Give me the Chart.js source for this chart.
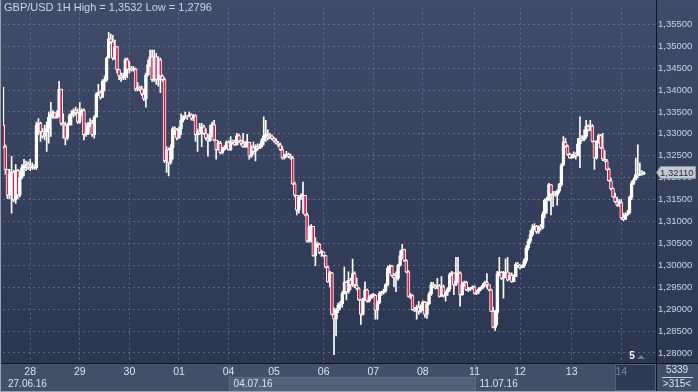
<!DOCTYPE html>
<html lang="en">
<head>
<meta charset="UTF-8">
<title>GBP/USD 1H</title>
<script src="https://cdn.jsdelivr.net/npm/chart.js"></script>
<style>
  html, body { margin: 0; padding: 0; background: #2d3853; }
  canvas { display: block; }
</style>
</head>
<body>
<canvas id="fx" width="698" height="392"></canvas>
<script>
// GBP/USD hourly bars, 27.06.16 ~11:00 .. 14.07.16 ~08:00
const opens = [
  1.3320, 1.3271, 1.3219, 1.3160, 1.3208, 1.3212, 1.3149, 1.3216, 1.3160, 1.3201,
  1.3223, 1.3227, 1.3230, 1.3226, 1.3223, 1.3227, 1.3223, 1.3320, 1.3324, 1.3305,
  1.3294, 1.3305, 1.3312, 1.3338, 1.3346, 1.3348, 1.3338, 1.3344, 1.3402, 1.3324,
  1.3320, 1.3290, 1.3320, 1.3342, 1.3346, 1.3353, 1.3348, 1.3327, 1.3350, 1.3353,
  1.3298, 1.3301, 1.3320, 1.3324, 1.3298, 1.3338, 1.3391, 1.3394, 1.3383, 1.3420,
  1.3424, 1.3473, 1.3517, 1.3510, 1.3473, 1.3499, 1.3447, 1.3432, 1.3428, 1.3432,
  1.3469,
  1.3447, 1.3450, 1.3447, 1.3448, 1.3402, 1.3406, 1.3403, 1.3391, 1.3380, 1.3435,
  1.3458, 1.3476, 1.3424, 1.3476, 1.3424, 1.3469, 1.3432, 1.3424, 1.3238, 1.3264,
  1.3234, 1.3268, 1.3312, 1.3309, 1.3290, 1.3312, 1.3331, 1.3339, 1.3341, 1.3339,
  1.3344, 1.3335, 1.3341, 1.3298, 1.3305, 1.3301, 1.3316, 1.3301, 1.3290, 1.3284,
  1.3296, 1.3321, 1.3286, 1.3264, 1.3279, 1.3257, 1.3264, 1.3269, 1.3281, 1.3264,
  1.3284, 1.3281, 1.3275, 1.3296, 1.3284, 1.3279, 1.3271, 1.3277, 1.3281, 1.3249,
  1.3269, 1.3260, 1.3271, 1.3266, 1.3271, 1.3284,
  1.3296, 1.3296, 1.3292, 1.3295, 1.3289, 1.3284, 1.3279, 1.3275, 1.3264, 1.3245,
  1.3251, 1.3253, 1.3249, 1.3245, 1.3186, 1.3160, 1.3126, 1.3156, 1.3157, 1.3160,
  1.3115, 1.3055, 1.3087, 1.3089, 1.3022, 1.3050, 1.3048, 1.3029, 1.3031, 1.3022,
  1.2996, 1.2962, 1.2983, 1.2888, 1.2877, 1.2897, 1.2909, 1.2912, 1.2936, 1.2961,
  1.2940, 1.2966, 1.2955, 1.2981, 1.2955, 1.2947, 1.2921, 1.2888, 1.2921, 1.2944,
  1.2918, 1.2925, 1.2931, 1.2932, 1.2897, 1.2914, 1.2936, 1.2938, 1.2941, 1.2956,
  1.2993,
  1.2998, 1.2977, 1.2971, 1.2970, 1.3000, 1.3022, 1.3036, 1.3011, 1.2985, 1.2929,
  1.2931, 1.2899, 1.2897, 1.2904, 1.2895, 1.2907, 1.2916, 1.2888, 1.2912, 1.2934,
  1.2956, 1.2953, 1.2948, 1.2953, 1.2929, 1.2951, 1.2931, 1.2938, 1.2946, 1.2979,
  1.2983, 1.2955, 1.2964, 1.2983, 1.2933, 1.2956, 1.2961, 1.2944, 1.2946, 1.2948,
  1.2951, 1.2936, 1.2940, 1.2946, 1.2949, 1.2955, 1.2961, 1.2956, 1.2944, 1.2895,
  1.2858, 1.2892, 1.2981, 1.2984, 1.2970, 1.2972, 1.2985, 1.2966, 1.2977, 1.2962,
  1.2974, 1.3002, 1.3000, 1.2994,
  1.2998, 1.3010, 1.3040, 1.3055, 1.3070, 1.3085, 1.3089, 1.3076, 1.3087, 1.3086,
  1.3117, 1.3149, 1.3150, 1.3184, 1.3162, 1.3165, 1.3160, 1.3169, 1.3184, 1.3229,
  1.3281, 1.3272, 1.3253, 1.3245, 1.3247, 1.3254, 1.3251, 1.3277, 1.3290, 1.3286,
  1.3294, 1.3318, 1.3309, 1.3318, 1.3283, 1.3245, 1.3281, 1.3296, 1.3268, 1.3242,
  1.3238, 1.3219, 1.3193, 1.3175, 1.3156, 1.3145, 1.3137, 1.3143, 1.3108, 1.3105,
  1.3115, 1.3120, 1.3155, 1.3187, 1.3195, 1.3207, 1.3205, 1.3208, 1.3209
];
const highs = [
  1.3406, 1.3275, 1.3219, 1.3219, 1.3249, 1.3216, 1.3230, 1.3219, 1.3216, 1.3230,
  1.3242, 1.3238, 1.3236, 1.3242, 1.3234, 1.3230, 1.3327, 1.3335, 1.3327, 1.3312,
  1.3320, 1.3327, 1.3350, 1.3372, 1.3353, 1.3350, 1.3353, 1.3420, 1.3402, 1.3346,
  1.3327, 1.3324, 1.3346, 1.3353, 1.3357, 1.3361, 1.3357, 1.3372, 1.3357, 1.3357,
  1.3324, 1.3327, 1.3335, 1.3331, 1.3342, 1.3394, 1.3413, 1.3398, 1.3424, 1.3432,
  1.3476, 1.3532, 1.3528, 1.3525, 1.3514, 1.3499, 1.3447, 1.3439, 1.3439, 1.3473,
  1.3473,
  1.3465, 1.3454, 1.3454, 1.3450, 1.3417, 1.3409, 1.3409, 1.3402, 1.3439, 1.3469,
  1.3491, 1.3491, 1.3491, 1.3484, 1.3476, 1.3473, 1.3435, 1.3428, 1.3271, 1.3268,
  1.3275, 1.3316, 1.3316, 1.3312, 1.3316, 1.3346, 1.3342, 1.3350, 1.3342, 1.3350,
  1.3346, 1.3344, 1.3344, 1.3311, 1.3324, 1.3324, 1.3320, 1.3312, 1.3299, 1.3320,
  1.3327, 1.3331, 1.3286, 1.3284, 1.3283, 1.3269, 1.3274, 1.3284, 1.3284, 1.3294,
  1.3286, 1.3286, 1.3301, 1.3299, 1.3286, 1.3301, 1.3283, 1.3299, 1.3281, 1.3273,
  1.3281, 1.3275, 1.3277, 1.3277, 1.3289, 1.3339,
  1.3331, 1.3309, 1.3301, 1.3298, 1.3292, 1.3289, 1.3283, 1.3279, 1.3271, 1.3254,
  1.3260, 1.3256, 1.3254, 1.3249, 1.3190, 1.3160, 1.3160, 1.3163, 1.3190, 1.3160,
  1.3119, 1.3090, 1.3093, 1.3089, 1.3063, 1.3053, 1.3050, 1.3035, 1.3031, 1.3023,
  1.2998, 1.2986, 1.2984, 1.2903, 1.2901, 1.2914, 1.2918, 1.2940, 1.2996, 1.2964,
  1.2985, 1.2970, 1.3014, 1.2985, 1.2971, 1.2949, 1.2923, 1.2925, 1.2962, 1.2946,
  1.2931, 1.2934, 1.2936, 1.2934, 1.2919, 1.2940, 1.2941, 1.2946, 1.2958, 1.2998,
  1.3001,
  1.3000, 1.2981, 1.2985, 1.3003, 1.3033, 1.3048, 1.3037, 1.3013, 1.2988, 1.2936,
  1.2933, 1.2904, 1.2909, 1.2918, 1.2910, 1.2919, 1.2918, 1.2916, 1.2939, 1.2961,
  1.2961, 1.2956, 1.2970, 1.2956, 1.2974, 1.2955, 1.2941, 1.2949, 1.2983, 1.2986,
  1.2983, 1.3018, 1.3018, 1.2985, 1.2961, 1.2964, 1.2964, 1.2949, 1.2950, 1.2953,
  1.2953, 1.2943, 1.2949, 1.2951, 1.2959, 1.2964, 1.2981, 1.2953, 1.2946, 1.2904,
  1.2897, 1.2986, 1.3018, 1.2986, 1.2986, 1.3015, 1.3018, 1.2983, 1.2983, 1.2979,
  1.3006, 1.3006, 1.3001, 1.3001,
  1.3015, 1.3045, 1.3060, 1.3080, 1.3093, 1.3095, 1.3091, 1.3090, 1.3093, 1.3122,
  1.3152, 1.3156, 1.3187, 1.3184, 1.3169, 1.3169, 1.3172, 1.3187, 1.3232, 1.3294,
  1.3290, 1.3275, 1.3256, 1.3254, 1.3259, 1.3257, 1.3290, 1.3339, 1.3296, 1.3309,
  1.3331, 1.3321, 1.3331, 1.3321, 1.3284, 1.3284, 1.3299, 1.3299, 1.3301, 1.3262,
  1.3242, 1.3222, 1.3199, 1.3177, 1.3165, 1.3156, 1.3150, 1.3150, 1.3119, 1.3120,
  1.3125, 1.3158, 1.3192, 1.3199, 1.3245, 1.3275, 1.3234, 1.3216, 1.3214
];
const lows = [
  1.3268, 1.3208, 1.3152, 1.3152, 1.3119, 1.3145, 1.3141, 1.3152, 1.3156, 1.3197,
  1.3204, 1.3216, 1.3219, 1.3216, 1.3219, 1.3219, 1.3219, 1.3298, 1.3283, 1.3290,
  1.3286, 1.3260, 1.3279, 1.3294, 1.3335, 1.3335, 1.3335, 1.3338, 1.3320, 1.3290,
  1.3275, 1.3286, 1.3320, 1.3320, 1.3338, 1.3342, 1.3324, 1.3324, 1.3342, 1.3286,
  1.3294, 1.3298, 1.3316, 1.3294, 1.3290, 1.3338, 1.3387, 1.3379, 1.3383, 1.3398,
  1.3420, 1.3473, 1.3506, 1.3469, 1.3470, 1.3439, 1.3424, 1.3420, 1.3424, 1.3424,
  1.3428,
  1.3439, 1.3443, 1.3443, 1.3398, 1.3398, 1.3398, 1.3387, 1.3376, 1.3361, 1.3432,
  1.3454, 1.3420, 1.3420, 1.3413, 1.3409, 1.3394, 1.3420, 1.3234, 1.3212, 1.3204,
  1.3231, 1.3242, 1.3298, 1.3286, 1.3290, 1.3298, 1.3327, 1.3335, 1.3333, 1.3339,
  1.3331, 1.3330, 1.3283, 1.3260, 1.3298, 1.3271, 1.3298, 1.3286, 1.3249, 1.3283,
  1.3294, 1.3284, 1.3242, 1.3262, 1.3254, 1.3254, 1.3262, 1.3266, 1.3262, 1.3262,
  1.3277, 1.3273, 1.3274, 1.3281, 1.3274, 1.3269, 1.3269, 1.3269, 1.3242, 1.3246,
  1.3253, 1.3238, 1.3262, 1.3266, 1.3269, 1.3275,
  1.3283, 1.3286, 1.3289, 1.3286, 1.3281, 1.3277, 1.3271, 1.3262, 1.3242, 1.3242,
  1.3247, 1.3245, 1.3242, 1.3184, 1.3156, 1.3115, 1.3119, 1.3150, 1.3119, 1.3113,
  1.3053, 1.3053, 1.3053, 1.3020, 1.2999, 1.3041, 1.3026, 1.3020, 1.3019, 1.2994,
  1.2961, 1.2951, 1.2886, 1.2796, 1.2839, 1.2892, 1.2899, 1.2904, 1.2934, 1.2921,
  1.2936, 1.2944, 1.2951, 1.2949, 1.2944, 1.2919, 1.2865, 1.2886, 1.2919, 1.2916,
  1.2916, 1.2924, 1.2927, 1.2877, 1.2877, 1.2912, 1.2931, 1.2934, 1.2938, 1.2953,
  1.2983,
  1.2974, 1.2951, 1.2940, 1.2966, 1.2998, 1.3015, 1.3009, 1.2983, 1.2927, 1.2924,
  1.2897, 1.2894, 1.2877, 1.2888, 1.2892, 1.2897, 1.2881, 1.2879, 1.2910, 1.2931,
  1.2949, 1.2946, 1.2946, 1.2927, 1.2929, 1.2927, 1.2918, 1.2931, 1.2941, 1.2976,
  1.2933, 1.2953, 1.2961, 1.2907, 1.2931, 1.2953, 1.2942, 1.2940, 1.2942, 1.2945,
  1.2934, 1.2933, 1.2935, 1.2942, 1.2946, 1.2952, 1.2948, 1.2942, 1.2894, 1.2857,
  1.2851, 1.2864, 1.2976, 1.2968, 1.2925, 1.2976, 1.2964, 1.2968, 1.2961, 1.2964,
  1.2976, 1.2995, 1.2991, 1.2995,
  1.2995, 1.3005, 1.3035, 1.3050, 1.3066, 1.3080, 1.3073, 1.3073, 1.3080, 1.3083,
  1.3108, 1.3119, 1.3147, 1.3115, 1.3134, 1.3158, 1.3137, 1.3165, 1.3180, 1.3227,
  1.3269, 1.3251, 1.3244, 1.3244, 1.3245, 1.3242, 1.3249, 1.3223, 1.3284, 1.3284,
  1.3290, 1.3307, 1.3307, 1.3281, 1.3219, 1.3242, 1.3279, 1.3266, 1.3239, 1.3236,
  1.3217, 1.3192, 1.3172, 1.3155, 1.3143, 1.3135, 1.3134, 1.3105, 1.3102, 1.3104,
  1.3113, 1.3117, 1.3150, 1.3184, 1.3195, 1.3200, 1.3205, 1.3206, 1.3207
];
const closes = [
  1.3271, 1.3219, 1.3160, 1.3208, 1.3212, 1.3149, 1.3216, 1.3160, 1.3201, 1.3223,
  1.3227, 1.3230, 1.3226, 1.3223, 1.3227, 1.3223, 1.3320, 1.3324, 1.3305, 1.3294,
  1.3305, 1.3312, 1.3338, 1.3346, 1.3348, 1.3338, 1.3344, 1.3402, 1.3324, 1.3320,
  1.3290, 1.3320, 1.3342, 1.3346, 1.3353, 1.3348, 1.3327, 1.3350, 1.3353, 1.3298,
  1.3301, 1.3320, 1.3324, 1.3298, 1.3338, 1.3391, 1.3394, 1.3383, 1.3420, 1.3424,
  1.3473, 1.3517, 1.3510, 1.3473, 1.3499, 1.3447, 1.3432, 1.3428, 1.3432, 1.3469,
  1.3447,
  1.3450, 1.3447, 1.3448, 1.3402, 1.3406, 1.3403, 1.3391, 1.3380, 1.3435, 1.3458,
  1.3476, 1.3424, 1.3476, 1.3424, 1.3469, 1.3432, 1.3424, 1.3238, 1.3264, 1.3234,
  1.3268, 1.3312, 1.3309, 1.3290, 1.3312, 1.3331, 1.3339, 1.3341, 1.3339, 1.3344,
  1.3335, 1.3341, 1.3298, 1.3305, 1.3301, 1.3316, 1.3301, 1.3290, 1.3284, 1.3296,
  1.3321, 1.3286, 1.3264, 1.3279, 1.3257, 1.3264, 1.3269, 1.3281, 1.3264, 1.3284,
  1.3281, 1.3275, 1.3296, 1.3284, 1.3279, 1.3271, 1.3277, 1.3281, 1.3249, 1.3269,
  1.3260, 1.3271, 1.3266, 1.3271, 1.3284, 1.3296,
  1.3296, 1.3292, 1.3295, 1.3289, 1.3284, 1.3279, 1.3275, 1.3264, 1.3245, 1.3251,
  1.3253, 1.3249, 1.3245, 1.3186, 1.3160, 1.3126, 1.3156, 1.3157, 1.3160, 1.3115,
  1.3055, 1.3087, 1.3089, 1.3022, 1.3050, 1.3048, 1.3029, 1.3031, 1.3022, 1.2996,
  1.2962, 1.2983, 1.2888, 1.2877, 1.2897, 1.2909, 1.2912, 1.2936, 1.2961, 1.2940,
  1.2966, 1.2955, 1.2981, 1.2955, 1.2947, 1.2921, 1.2888, 1.2921, 1.2944, 1.2918,
  1.2925, 1.2931, 1.2932, 1.2897, 1.2914, 1.2936, 1.2938, 1.2941, 1.2956, 1.2993,
  1.2998,
  1.2977, 1.2971, 1.2970, 1.3000, 1.3022, 1.3036, 1.3011, 1.2985, 1.2929, 1.2931,
  1.2899, 1.2897, 1.2904, 1.2895, 1.2907, 1.2916, 1.2888, 1.2912, 1.2934, 1.2956,
  1.2953, 1.2948, 1.2953, 1.2929, 1.2951, 1.2931, 1.2938, 1.2946, 1.2979, 1.2983,
  1.2955, 1.2964, 1.2983, 1.2933, 1.2956, 1.2961, 1.2944, 1.2946, 1.2948, 1.2951,
  1.2936, 1.2940, 1.2946, 1.2949, 1.2955, 1.2961, 1.2956, 1.2944, 1.2895, 1.2858,
  1.2892, 1.2981, 1.2984, 1.2970, 1.2972, 1.2985, 1.2966, 1.2977, 1.2962, 1.2974,
  1.3002, 1.3000, 1.2994, 1.2998,
  1.3010, 1.3040, 1.3055, 1.3070, 1.3085, 1.3089, 1.3076, 1.3087, 1.3086, 1.3117,
  1.3149, 1.3150, 1.3184, 1.3162, 1.3165, 1.3160, 1.3169, 1.3184, 1.3229, 1.3281,
  1.3272, 1.3253, 1.3245, 1.3247, 1.3254, 1.3251, 1.3277, 1.3290, 1.3286, 1.3294,
  1.3318, 1.3309, 1.3318, 1.3283, 1.3245, 1.3281, 1.3296, 1.3268, 1.3242, 1.3238,
  1.3219, 1.3193, 1.3175, 1.3156, 1.3145, 1.3137, 1.3143, 1.3108, 1.3105, 1.3115,
  1.3120, 1.3155, 1.3187, 1.3195, 1.3207, 1.3205, 1.3208, 1.3209, 1.3211
];

// bar index where each day starts, and the label under it
const dayTicks = [13, 37, 61, 85, 109, 131, 155, 179, 203, 228, 250, 275, 299];
const dayLabels = ['28', '29', '30', '01', '04', '05', '06', '07', '08', '11', '12', '13', '14'];
const weekLabels = ['27.06.16', '04.07.16', '11.07.16'];
const weekTickIdx = [null, 4, 9];

const priceMin = 1.2777, priceMax = 1.3588;

const fmt = (v, d) => v.toFixed(d).replace('.', ',');
const FONT = '"Liberation Sans", Arial, sans-serif';
const RED = '#e8123c';

const bodies = closes.map((c, i) => ({ x: i, y: [opens[i], c] }));
const wicks = closes.map((c, i) => ({ x: i, y: [lows[i], highs[i]] }));
const bodyColors = closes.map((c, i) => c < opens[i] ? RED : '#ffffff');

const framePlugin = {
  id: 'frame',
  beforeDraw(chart) {
    const { ctx, chartArea: a, width, height } = chart;
    const xs = chart.scales.x;
    ctx.save();
    const g = ctx.createLinearGradient(0, 0, 0, a.bottom);
    g.addColorStop(0, '#3f4b68');
    g.addColorStop(1, '#2b3651');
    ctx.fillStyle = g;
    ctx.fillRect(0, 0, width, a.bottom);

    // bottom strip
    ctx.fillStyle = '#434f69';
    ctx.fillRect(0, a.bottom, width, height - a.bottom);
    const w1 = Math.round(xs.getPixelForValue(dayTicks[4]));
    const w2 = Math.round(xs.getPixelForValue(dayTicks[9]));
    const w3 = Math.round(xs.getPixelForValue(dayTicks[12])) - 6;
    ctx.fillStyle = '#535f79';
    ctx.fillRect(w1, a.bottom + 14, w2 - w1, 14);
    ctx.fillStyle = '#2e3a55';
    ctx.fillRect(w3, a.bottom + 1, a.right - w3, 27);
    ctx.strokeStyle = '#5f6a84';
    ctx.lineWidth = 1;
    ctx.beginPath();
    ctx.moveTo(w1 + 0.5, a.bottom); ctx.lineTo(w1 + 0.5, a.bottom + 28);
    ctx.moveTo(w2 + 0.5, a.bottom); ctx.lineTo(w2 + 0.5, a.bottom + 28);
    ctx.moveTo(w1, a.bottom + 14.5); ctx.lineTo(w2, a.bottom + 14.5);
    ctx.stroke();
    ctx.strokeStyle = '#56627c';
    ctx.strokeRect(w3 + 0.5, a.bottom + 1.5, a.right - w3 - 1, 26);
    ctx.restore();
  },
  afterDraw(chart) {
    const { ctx, chartArea: a, width, height } = chart;
    const xs = chart.scales.x, ys = chart.scales.y;
    ctx.save();

    // title
    ctx.font = '11px ' + FONT;
    ctx.fillStyle = '#ccd5e6';
    ctx.textBaseline = 'middle';
    ctx.textAlign = 'left';
    const hi = Math.max(...highs), lo = Math.min(...lows);
    ctx.fillText('GBP/USD 1H High = ' + fmt(hi, 4) + ' Low = ' + fmt(lo, 4), 4, 8);

    // separators
    ctx.strokeStyle = '#10141c';
    ctx.lineWidth = 1;
    ctx.beginPath();
    ctx.moveTo(0, a.bottom + 0.5); ctx.lineTo(width, a.bottom + 0.5);
    ctx.moveTo(a.right + 0.5, 0); ctx.lineTo(a.right + 0.5, height);
    ctx.stroke();
    ctx.strokeStyle = '#9aa3b4';
    ctx.beginPath();
    ctx.moveTo(0.5, 0); ctx.lineTo(0.5, height);
    ctx.moveTo(0, height - 0.5); ctx.lineTo(width, height - 0.5);
    ctx.stroke();

    // last price tag
    const last = closes[closes.length - 1];
    const py = Math.round(ys.getPixelForValue(last));
    ctx.fillStyle = '#c5c9d1';
    ctx.strokeStyle = '#8d94a3';
    ctx.beginPath();
    ctx.moveTo(a.right + 0.5, py - 0.5);
    ctx.lineTo(a.right + 4.5, py - 6.5);
    ctx.lineTo(width - 2.5, py - 6.5);
    ctx.lineTo(width - 2.5, py + 5.5);
    ctx.lineTo(a.right + 4.5, py + 5.5);
    ctx.closePath();
    ctx.fill();
    ctx.stroke();
    ctx.fillStyle = '#1d2433';
    ctx.font = '9.5px ' + FONT;
    ctx.fillText(fmt(last, 5), a.right + 4, py);

    // week labels
    ctx.fillStyle = '#dde3ec';
    ctx.font = '10px ' + FONT;
    weekLabels.forEach((t, k) => {
      const x0 = weekTickIdx[k] === null ? a.left : xs.getPixelForValue(dayTicks[weekTickIdx[k]]);
      ctx.fillText(t, x0 + 5, a.bottom + 21);
    });

    // right bottom counters
    ctx.textAlign = 'center';
    ctx.fillText('5339', a.right + 21, a.bottom + 7);
    ctx.fillText('>315<', a.right + 21, a.bottom + 21);
    ctx.strokeStyle = '#c9d0dc';
    ctx.beginPath();
    ctx.moveTo(a.right + 6, a.bottom + 14.5); ctx.lineTo(width - 5, a.bottom + 14.5);
    ctx.stroke();

    // scroll marker
    ctx.font = 'bold 10px ' + FONT;
    ctx.fillStyle = '#ffffff';
    ctx.fillText('5', a.right - 24, a.bottom - 7);
    ctx.fillStyle = '#6d7891';
    ctx.beginPath();
    ctx.moveTo(a.right - 19, a.bottom - 4);
    ctx.lineTo(a.right - 15, a.bottom - 8);
    ctx.lineTo(a.right - 11, a.bottom - 4);
    ctx.closePath();
    ctx.fill();
    ctx.restore();
  }
};

new Chart(document.getElementById('fx'), {
  type: 'bar',
  data: {
    datasets: [
      {
        label: 'body',
        data: bodies,
        backgroundColor: bodyColors,
        borderColor: '#ffffff',
        borderWidth: 1,
        borderSkipped: false,
        barThickness: 3,
        minBarLength: 1,
        grouped: false
      },
      {
        label: 'wick',
        data: wicks,
        backgroundColor: '#ffffff',
        borderWidth: 0,
        barThickness: 1,
        minBarLength: 1,
        grouped: false
      }
    ]
  },
  options: {
    responsive: false,
    animation: false,
    devicePixelRatio: 1,
    layout: { padding: { left: 3, top: 0, right: 0, bottom: 0 }, autoPadding: false },
    plugins: { legend: { display: false }, tooltip: { enabled: false } },
    scales: {
      x: {
        type: 'linear',
        min: -0.15,
        max: 315.8,
        offset: false,
        afterBuildTicks: s => { s.ticks = dayTicks.map(v => ({ value: v })); },
        afterFit: s => { s.height = 29; },
        grid: { color: 'rgba(125,140,172,0.55)', drawTicks: false, offset: false },
        border: { display: false, dash: [2, 3] },
        ticks: {
          autoSkip: false,
          maxRotation: 0,
          padding: 3,
          font: { family: FONT, size: 10.5 },
          color: c => c.tick && c.tick.value === dayTicks[dayTicks.length - 1] ? '#7f899d' : '#dde3ec',
          callback: v => dayLabels[dayTicks.indexOf(v)]
        }
      },
      y: {
        position: 'right',
        min: priceMin,
        max: priceMax,
        afterFit: s => { s.width = 42; },
        grid: { color: 'rgba(125,140,172,0.55)', drawTicks: false },
        border: { display: false, dash: [2, 3] },
        ticks: {
          stepSize: 0.005,
          includeBounds: false,
          padding: 2,
          font: { family: FONT, size: 9.5 },
          color: '#c9d3e5',
          callback: v => fmt(v, 5)
        }
      }
    }
  },
  plugins: [framePlugin]
});
</script>
</body>
</html>
